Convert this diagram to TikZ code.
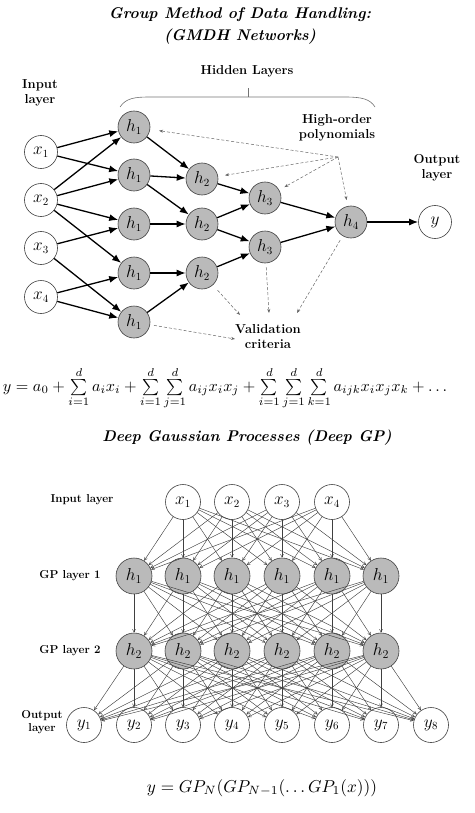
\documentclass[tikz,border=0pt]{standalone}
\usetikzlibrary{arrows.meta}
\begin{document}
\begin{tikzpicture}[x=1pt,y=-1pt,
  inp/.style={circle,draw=black!75,fill=white,minimum size=33pt,inner sep=0pt,line width=0.6pt,font=\fontsize{16}{18}\selectfont},
  hid/.style={circle,draw=black!75,fill=black!27,minimum size=32pt,inner sep=0pt,line width=0.6pt,font=\fontsize{16}{18}\selectfont},
  binp/.style={inp,minimum size=35pt},
  bhid/.style={hid,minimum size=36pt,font=\fontsize{17}{19}\selectfont},
  lab/.style={font=\fontsize{13}{15}\selectfont\bfseries,align=center,inner sep=0pt},
  blab/.style={font=\fontsize{11.5}{13.5}\selectfont\bfseries,align=center,inner sep=0pt},
  ttl/.style={font=\fontsize{15.5}{18}\selectfont\bfseries\itshape,align=center,inner sep=0pt},
  arr/.style={-{Latex[length=9pt,width=7pt]},line width=1.3pt},
  darr/.style={-{Stealth[length=4pt,width=3pt]},black!60,line width=0.5pt,dash pattern=on 3pt off 2pt},
  tarr/.style={-{Straight Barb[length=3pt,width=3pt]},black!75,line width=0.45pt}]
\useasboundingbox (0,0) rectangle (474,813);
% titles
\node[ttl] (t1) at (240,15) {Group Method of Data Handling:};
\node[ttl] (t2) at (240,37) {(GMDH Networks)};
\node[lab] (hl) at (247,71) {Hidden Layers};
\node[lab] (il) at (40,93) {Input\\layer};
\node[lab] (hop) at (337,128) {High-order\\polynomials};
\node[lab] (ol) at (437,168) {Output\\layer};
\node[lab] (vc) at (268,337) {Validation\\criteria};
% brace
\draw[black!55,line width=0.6pt] (120,107) .. controls (126,98) and (135,97) .. (150,97) -- (345,97) .. controls (362,97) and (370,99) .. (375,107);
\draw[black!55,line width=0.6pt] (248,97) -- (248,88);
% input nodes
\node[inp] (x1) at (41,152) {$x_1$};
\node[inp] (x2) at (41,200) {$x_2$};
\node[inp] (x3) at (41,248) {$x_3$};
\node[inp] (x4) at (41,297) {$x_4$};
\node[hid] (a1) at (134,127) {$h_1$};
\node[hid] (a2) at (134,175) {$h_1$};
\node[hid] (a3) at (134,224) {$h_1$};
\node[hid] (a4) at (134,273) {$h_1$};
\node[hid] (a5) at (134,322) {$h_1$};
\node[hid] (b1) at (202,179) {$h_2$};
\node[hid] (b2) at (202,224) {$h_2$};
\node[hid] (b3) at (202,273) {$h_2$};
\node[hid] (c1) at (265,198) {$h_3$};
\node[hid] (c2) at (265,247) {$h_3$};
\node[hid] (d1) at (351,222) {$h_4$};
\node[inp] (yo) at (435,222) {$y$};
% solid arrows
\foreach \s/\t in {x1/a1,x1/a2,x2/a1,x2/a2,x2/a3,x2/a4,x3/a3,x3/a5,x4/a4,x4/a5,
  a1/b1,a2/b1,a2/b2,a3/b2,a4/b3,a5/b3,b1/c1,b2/c1,b2/c2,b3/c2,c1/d1,c2/d1,d1/yo}
  \draw[arr] (\s) -- (\t);
% dashed arrows
\coordinate (hp) at (338,157);
\draw[darr,shorten >=9pt] (hp) -- (a1);
\draw[darr,shorten >=7pt] (hp) -- (b1);
\draw[darr,shorten >=6pt] (hp) -- (c1);
\draw[darr,shorten >=6pt] (hp) -- (d1);
\coordinate (v1) at (235,339);
\coordinate (v2) at (240,315);
\coordinate (v3) at (269,313);
\coordinate (v4) at (297,313);
\draw[darr,shorten <=4pt] (a5) -- (v1);
\draw[darr,shorten <=7pt] (b3) -- (v2);
\draw[darr,shorten <=4pt] (c2) -- (v3);
\draw[darr,shorten <=5pt] (d1) -- (v4);
% equation
\node[inner sep=0pt] (eq1) at (225,388) {\resizebox{444pt}{!}{$y=a_0+\sum\limits_{i=1}^{d}a_ix_i+\sum\limits_{i=1}^{d}\sum\limits_{j=1}^{d}a_{ij}x_ix_j+\sum\limits_{i=1}^{d}\sum\limits_{j=1}^{d}\sum\limits_{k=1}^{d}a_{ijk}x_ix_jx_k+\ldots$}};
\node[ttl] (t3) at (247,438) {Deep Gaussian Processes (Deep GP)};
% bottom network
\node[blab] (l1) at (82,500) {Input layer};
\node[blab] (l2) at (70,576) {GP layer 1};
\node[blab] (l3) at (70,651) {GP layer 2};
\node[blab] (l4) at (42,722) {Output\\layer};
\foreach \i/\x in {1/183,2/232,3/282,4/332}
  \node[binp] (p\i) at (\x,502) {$x_\i$};
\foreach \i/\x in {1/134,2/183,3/232,4/282,5/332,6/381}
  \node[bhid] (q\i) at (\x,576) {$h_1$};
\foreach \i/\x in {1/134,2/183,3/232,4/282,5/332,6/381}
  \node[bhid] (r\i) at (\x,651) {$h_2$};
\foreach \i/\x in {1/84,2/134,3/183,4/232,5/282,6/332,7/381,8/431}
  \node[binp] (s\i) at (\x,725) {$y_\i$};
\foreach \i in {1,...,4}
  \foreach \j in {1,...,6}
    \draw[tarr] (p\i) -- (q\j);
\foreach \i in {1,...,6}
  \foreach \j in {1,...,6}
    \draw[tarr] (q\i) -- (r\j);
\foreach \i in {1,...,6}
  \foreach \j in {1,...,8}
    \draw[tarr] (r\i) -- (s\j);
\node[inner sep=0pt] (eq2) at (262,788) {\resizebox{230pt}{!}{$y=GP_N(GP_{N-1}(\ldots GP_1(x)))$}};
\end{tikzpicture}
\end{document}
